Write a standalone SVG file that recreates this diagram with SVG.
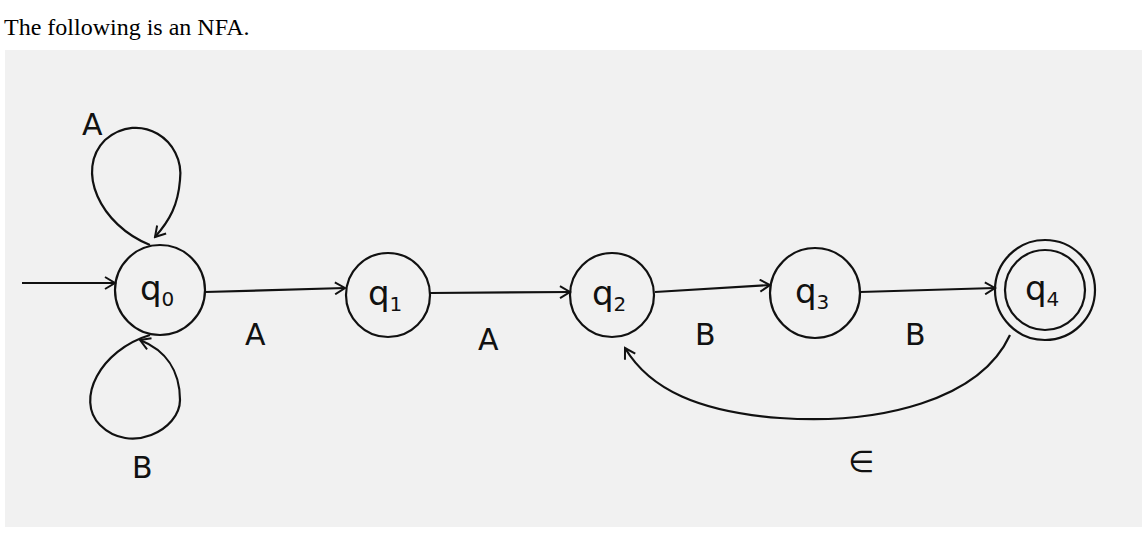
<svg xmlns="http://www.w3.org/2000/svg" width="1147" height="537" viewBox="0 0 1147 537">
<defs>
<marker id="ah" markerWidth="14" markerHeight="14" refX="12" refY="7" orient="auto" markerUnits="userSpaceOnUse">
<path d="M2,1 L12,7 L2,13" fill="none" stroke="#111" stroke-width="2"/>
</marker>
</defs>
<style>
.n{fill:none;stroke:#111;stroke-width:2.2}
.e{fill:none;stroke:#111;stroke-width:2.2;marker-end:url(#ah)}
.t{font-family:"DejaVu Sans",sans-serif;font-size:34px;fill:#111}
.l{font-family:"DejaVu Sans",sans-serif;font-size:30px;fill:#111}
.h{font-family:"Liberation Serif",serif;font-size:24px;fill:#000}
</style>
<rect width="1147" height="537" fill="#fff"/>
<rect x="5" y="50" width="1137" height="477" fill="#f1f1f1"/>
<text class="h" x="4" y="35">The following is an NFA.</text>
<g id="connectors">
<path class="e" d="M22,283 L115,283"/>
<path class="e" d="M205,292 L345,288"/>
<path class="e" d="M430,293 L570,292"/>
<path class="e" d="M655,292 L770,285"/>
<path class="e" d="M860,292 L995,288"/>
<path class="e" d="M1010,335 C980,400 880,425 780,418 C700,412 650,390 625,348"/>
<path class="e" d="M150,245 C100,225 75,170 105,140 C140,110 185,140 180,180 C178,205 170,220 155,237"/>
<path class="e" d="M150,335 C100,350 75,400 100,425 C130,455 180,430 180,400 C180,370 165,350 140,340"/>
<text class="l" x="82" y="135">A</text>
<text class="l" x="132" y="478">B</text>
<text class="l" x="245" y="345">A</text>
<text class="l" x="478" y="350">A</text>
<text class="l" x="695" y="345">B</text>
<text class="l" x="905" y="345">B</text>
<text class="l" x="848" y="472">∈</text>
</g>
<g id="q0"><circle class="n" cx="160" cy="290" r="45"/><text class="t" x="140" y="300">q<tspan font-size="20" dy="6">0</tspan></text></g>
<g id="q1"><circle class="n" cx="388" cy="295" r="42"/><text class="t" x="368" y="305">q<tspan font-size="20" dy="6">1</tspan></text></g>
<g id="q2"><circle class="n" cx="612" cy="295" r="42"/><text class="t" x="592" y="305">q<tspan font-size="20" dy="6">2</tspan></text></g>
<g id="q3"><circle class="n" cx="815" cy="293" r="45"/><text class="t" x="795" y="303">q<tspan font-size="20" dy="6">3</tspan></text></g>
<g id="q4"><circle class="n" cx="1045" cy="290" r="50"/><circle class="n" cx="1045" cy="290" r="40"/><text class="t" x="1025" y="300">q<tspan font-size="20" dy="6">4</tspan></text></g>
</svg>
